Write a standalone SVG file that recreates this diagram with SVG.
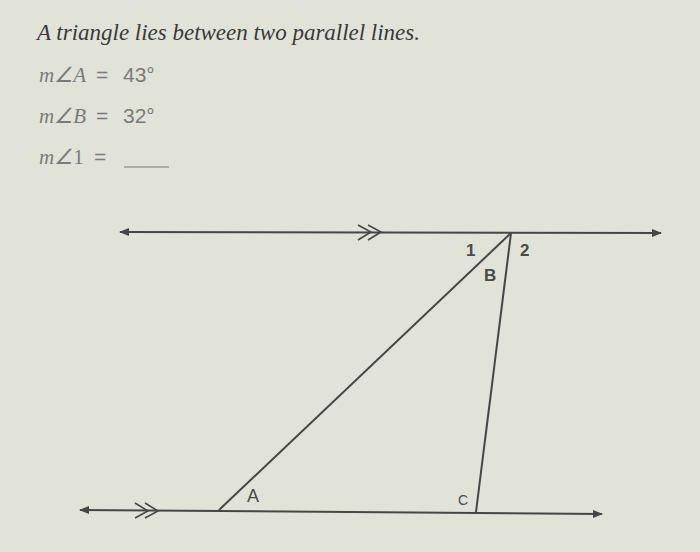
<svg xmlns="http://www.w3.org/2000/svg" width="700" height="552" viewBox="0 0 700 552">
<style>
.bg{fill:#e1e3d9}
.title{font-family:"Liberation Serif",serif;font-style:italic;font-size:23px;fill:#3a3a3a}
.mi{font-family:"Liberation Serif",serif;font-style:italic;font-size:21px;fill:#7a7a7a}
.ms{font-family:"Liberation Sans",sans-serif;font-size:21px;fill:#7a7a7a}
.ln{stroke:#464646;stroke-width:2;fill:none}
.chev{stroke:#464646;stroke-width:1.6;fill:none}
.lbl{font-family:"Liberation Sans",sans-serif;font-weight:bold;font-size:17px;fill:#4a4a4a}
</style>
<defs>
<marker id="ah" viewBox="0 0 10 10" refX="9" refY="5" markerWidth="5" markerHeight="5" orient="auto-start-reverse">
<path d="M0,1 L10,5 L0,9 Z" fill="#464646"/>
</marker>
</defs>
<rect class="bg" x="0" y="0" width="700" height="552"/>
<g id="text">
<text class="title" x="37" y="40" textLength="383" lengthAdjust="spacing">A triangle lies between two parallel lines.</text>
<text x="39" y="82"><tspan class="mi">m∠A</tspan><tspan class="ms" x="96">=</tspan><tspan class="ms" x="123">43°</tspan></text>
<text x="39" y="123"><tspan class="mi">m∠B</tspan><tspan class="ms" x="96">=</tspan><tspan class="ms" x="123">32°</tspan></text>
<text x="39" y="164"><tspan class="mi">m∠</tspan><tspan class="mi" style="font-style:normal">1</tspan><tspan class="ms" x="94">=</tspan></text>
<line x1="124" y1="167" x2="169" y2="167" stroke="#7a7a7a" stroke-width="1.2"/>
</g>
<g id="connectors">
<line id="top-line" class="ln" x1="120" y1="232" x2="661" y2="233" marker-start="url(#ah)" marker-end="url(#ah)"/>
<line id="bottom-line" class="ln" x1="80" y1="510" x2="602" y2="514" marker-start="url(#ah)" marker-end="url(#ah)"/>
<line id="side-AB" class="ln" x1="219" y1="510" x2="511" y2="233"/>
<line id="side-CB" class="ln" x1="476" y1="512" x2="511" y2="233"/>
<path class="chev" d="M358,225 L371,232 L358,240 M368,225 L381,232 L368,240"/>
<path class="chev" d="M135,503 L148,511 L135,518 M145,503 L158,511 L145,518"/>
</g>
<g id="labels">
<text class="lbl" x="466" y="256">1</text>
<text class="lbl" x="520" y="256">2</text>
<text class="lbl" x="484" y="281">B</text>
<text class="lbl" x="247" y="502" style="font-weight:normal;font-size:18px">A</text>
<text class="lbl" x="458" y="505" style="font-weight:normal;font-size:14px">C</text>
</g>
</svg>
